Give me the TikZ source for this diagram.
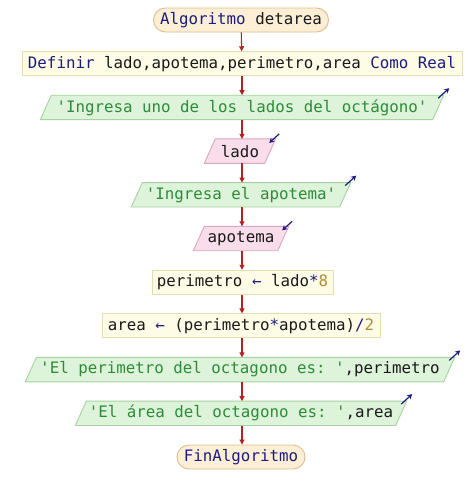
\documentclass[tikz,border=0pt]{standalone}
\usepackage{fontspec}
\setmonofont{DejaVu Sans Mono}
\usetikzlibrary{arrows.meta,calc}
\definecolor{termf}{HTML}{FCEFD6}
\definecolor{termb}{HTML}{DDBE8C}
\definecolor{procf}{HTML}{FEFCE6}
\definecolor{procb}{HTML}{E3DDB0}
\definecolor{outf}{HTML}{DDF3DA}
\definecolor{outb}{HTML}{A6D3A0}
\definecolor{inf}{HTML}{FADDEB}
\definecolor{inb}{HTML}{D9A7C0}
\definecolor{arrowc}{HTML}{B22222}
\definecolor{navy}{HTML}{1C1C80}
\definecolor{strg}{HTML}{2E8B3A}
\definecolor{numc}{HTML}{B08D3C}
\definecolor{ink}{HTML}{1A1A1A}
\pgfdeclarelayer{paper}
\pgfdeclarelayer{background}
\pgfsetlayers{paper,background,main}
\newcommand\ioshape[3]{%
  \begin{pgfonlayer}{background}
    \draw[fill=#2,draw=#3,line width=0.9pt]
      ($(#1.south west)+(-5.5,0)$) -- ($(#1.north west)+(5.5,0)$) --
      ($(#1.north east)+(5.5,0)$) -- ($(#1.south east)+(-5.5,0)$) -- cycle;
  \end{pgfonlayer}}
\newcommand\outmark[1]{%
  \draw[note] ($(#1.north east)+(0,3)$) -- ($(#1.north east)+(11,-7)$);}
\newcommand\inmark[1]{%
  \draw[note] ($(#1.north east)+(9,-5)$) -- ($(#1.north east)+(-1,4)$);}
\tikzset{
  term/.style={rectangle, rounded corners=12pt, draw=termb, fill=termf, line width=0.9pt, minimum height=24pt, inner sep=0pt},
  proc/.style={rectangle, draw=procb, fill=procf, line width=0.9pt, minimum height=24pt, inner sep=0pt},
  io/.style={rectangle, minimum height=24pt, inner sep=0pt},
  flow/.style={-{Triangle[length=5pt,width=5pt]}, draw=arrowc, line width=1.1pt},
  note/.style={-{Stealth[length=5pt,width=5.5pt]}, draw=navy, line width=1.2pt}
}
\begin{document}
\begin{tikzpicture}[x=1pt,y=-1pt, font=\ttfamily\fontsize{15.8}{18}\selectfont, text=ink]
\begin{pgfonlayer}{paper}
\fill[white] (0,0) rectangle (474,483);
\end{pgfonlayer}
\useasboundingbox (0,0) rectangle (474,483);
\node[term, minimum width=175pt] (s) at (241,20) {{\color{navy}Algoritmo} detarea};
\node[proc, minimum width=440pt] (d) at (242,63.7) {{\color{navy}Definir} lado,apotema,perimetro,area {\color{navy}Como Real}};
\node[io, minimum width=392pt, text=strg] (o1) at (242,107.4) {'Ingresa uno de los lados del octágono'};
\node[io, minimum width=60pt] (i1) at (240,151.1) {lado};
\node[io, minimum width=208pt, text=strg] (o2) at (241,194.8) {'Ingresa el apotema'};
\node[io, minimum width=84pt] (i2) at (241,238.5) {apotema};
\node[proc, minimum width=181pt] (p1) at (242.5,282.2) {perimetro {\color{navy}←} lado{\color{navy}*}{\color{numc}8}};
\node[proc, minimum width=278pt] (p2) at (241,325.9) {area {\color{navy}←} (perimetro{\color{navy}*}apotema){\color{navy}/}{\color{numc}2}};
\node[io, minimum width=418pt] (o3) at (240,369.6) {{\color{strg}'El perimetro del octagono es: '},perimetro};
\node[io, minimum width=320pt] (o4) at (241,413.3) {{\color{strg}'El área del octagono es: '},area};
\node[term, minimum width=128pt] (f) at (241,457) {{\color{navy}FinAlgoritmo}};
\ioshape{o1}{outf}{outb}
\ioshape{i1}{inf}{inb}
\ioshape{o2}{outf}{outb}
\ioshape{i2}{inf}{inb}
\ioshape{o3}{outf}{outb}
\ioshape{o4}{outf}{outb}
\outmark{o1}
\inmark{i1}
\outmark{o2}
\inmark{i2}
\outmark{o3}
\outmark{o4}
\draw[flow] (s) -- (d);
\draw[flow] (d) -- (o1);
\draw[flow] (o1) -- (i1.north -| o1.south);
\draw[flow] (i1.south -| o1.south) -- (o2.north -| o1.south);
\draw[flow] (o2.south -| o1.south) -- (i2.north -| o1.south);
\draw[flow] (i2.south -| o1.south) -- (p1.north -| o1.south);
\draw[flow] (p1.south -| o1.south) -- (p2.north -| o1.south);
\draw[flow] (p2.south -| o1.south) -- (o3.north -| o1.south);
\draw[flow] (o3.south -| o1.south) -- (o4.north -| o1.south);
\draw[flow] (o4.south -| o1.south) -- (f.north -| o1.south);
\end{tikzpicture}
\end{document}
